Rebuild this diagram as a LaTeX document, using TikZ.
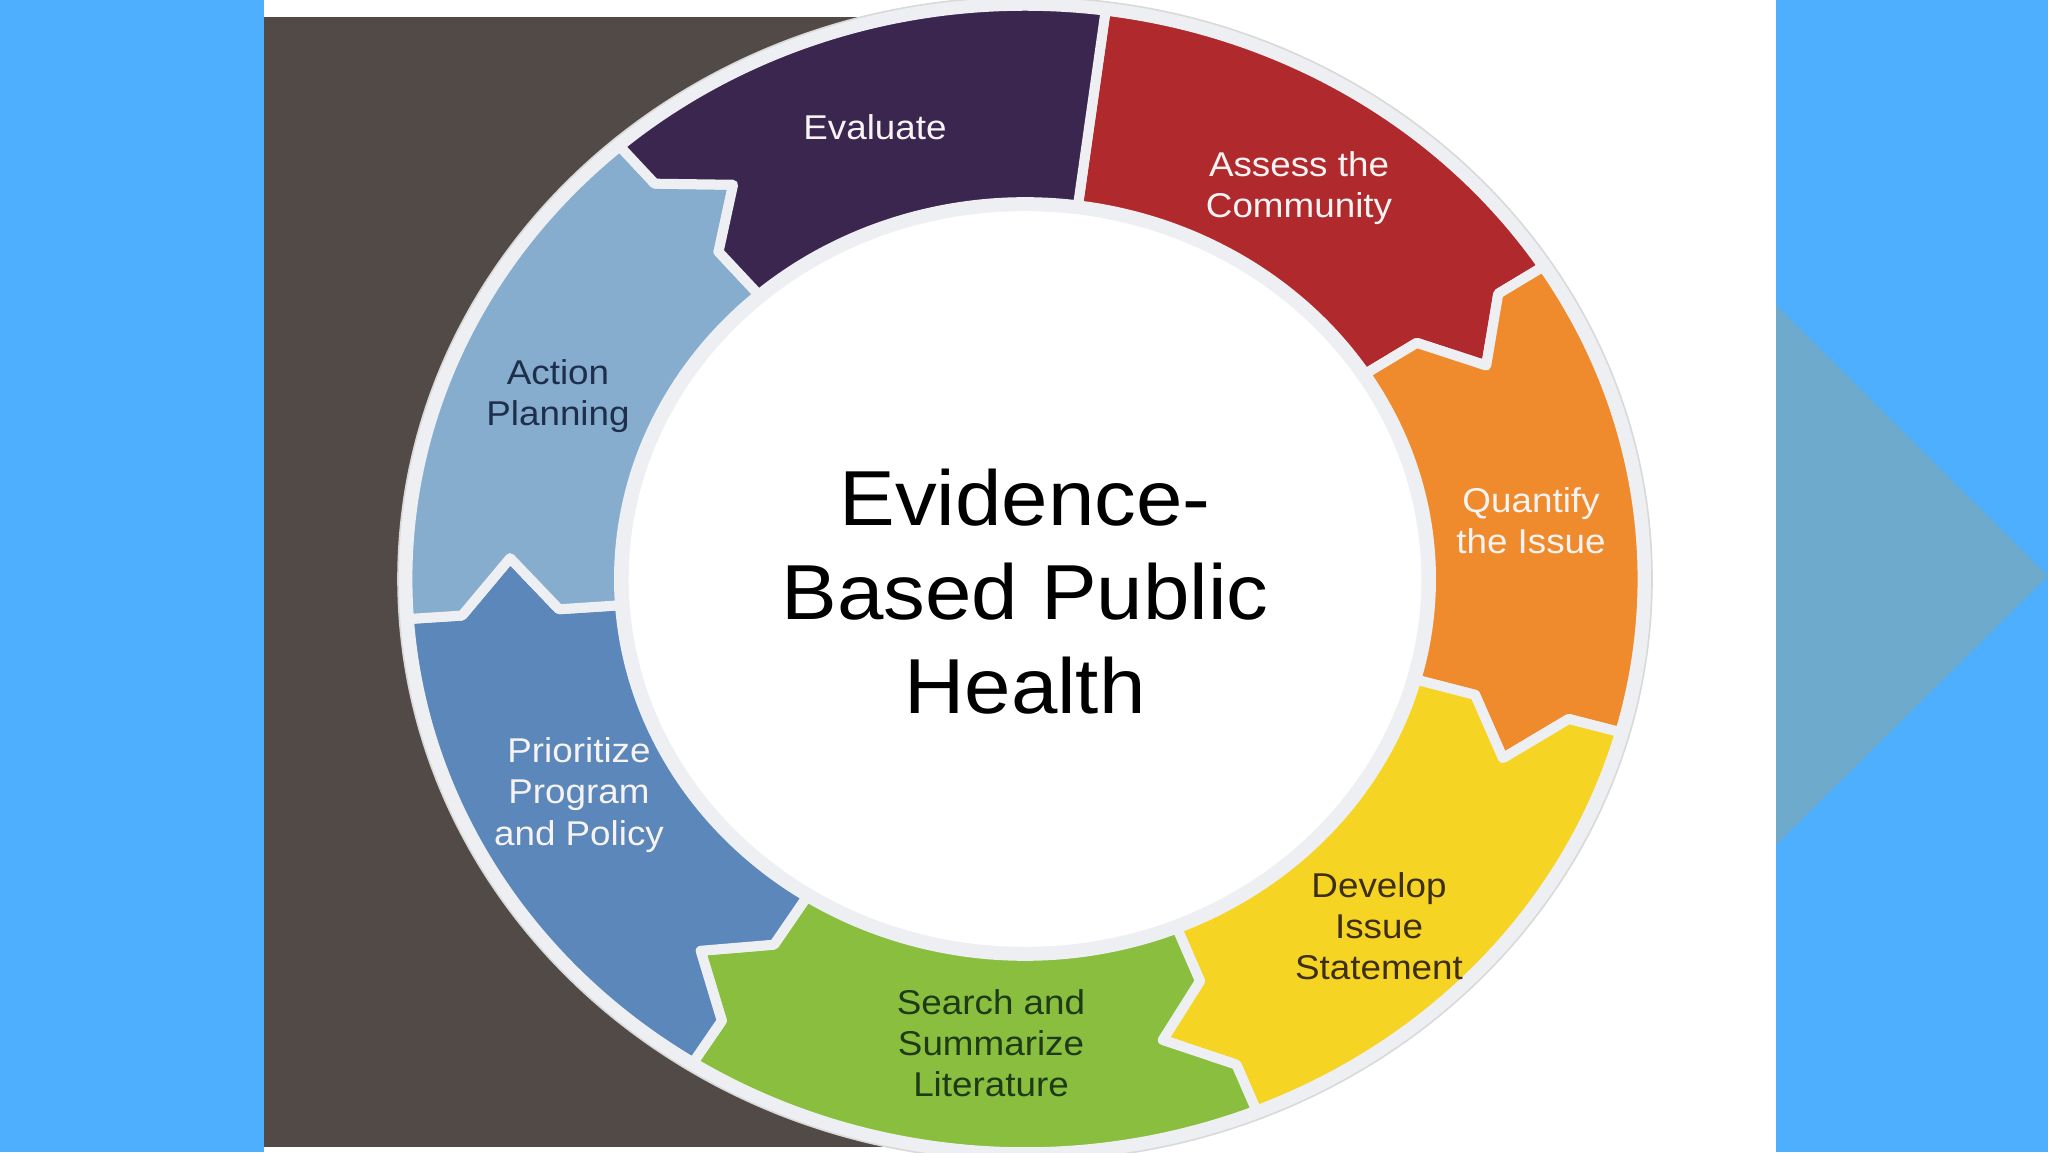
\documentclass[tikz,border=0pt]{standalone}
\usepackage{fontspec}
\setmainfont{Liberation Sans}[FakeStretch=1.07]
\definecolor{bgblue}{HTML}{4DAFFE}
\definecolor{triblue}{HTML}{6DAACB}
\definecolor{darkbg}{HTML}{524A46}
\definecolor{rim}{HTML}{EEEFF3}
\definecolor{cEval}{HTML}{3B2650}
\definecolor{cAssess}{HTML}{B0292D}
\definecolor{cQuant}{HTML}{EF8B2C}
\definecolor{cDev}{HTML}{F6D423}
\definecolor{cSearch}{HTML}{89BE3F}
\definecolor{cPrior}{HTML}{5B87BA}
\definecolor{cAction}{HTML}{86ADCD}
\definecolor{tLight}{HTML}{F7F3F3}
\definecolor{tDev}{HTML}{3D2F14}
\definecolor{tSearch}{HTML}{1F3A16}
\definecolor{tAction}{HTML}{1E2F4D}
\def\ro{0.985}\def\ri{0.6475}\def\rs{0.90}\def\rp{0.822}\def\rt{0.745}\def\dlt{6.5}
% #1 ccw angle, #2 cw angle, #3 colour, #4 notch at #1 (1/0), #5 tip at #2 (1/0)
\newcommand{\ringseg}[5]{%
  \pgfmathsetmacro\segAd{#1-\dlt}%
  \pgfmathsetmacro\segBd{#2-\dlt}%
  \ifnum#5=1 \edef\tippart{-- (#2:\rs) -- (\segBd:\rp) -- (#2:\rt)}\else\def\tippart{}\fi
  \ifnum#4=1 \edef\notchpart{-- (#1:\rt) -- (\segAd:\rp) -- (#1:\rs)}\else\def\notchpart{}\fi
  \filldraw[segment, fill=#3] (#1:\ro) arc[start angle=#1, end angle=#2, radius=\ro]
    \tippart -- (#2:\ri) arc[start angle=#2, end angle=#1, radius=\ri] \notchpart -- cycle;
}
\tikzset{
  segment/.style={draw=rim, line width=5pt, line join=round},
  lbl/.style={align=center, inner sep=0pt, font=\fontsize{17.2}{20.6}\selectfont},
  hub/.style={align=center, inner sep=0pt, font=\fontsize{39}{47}\selectfont}
}
\begin{document}
\begin{tikzpicture}[x=0.5pt, y=0.5pt]
\useasboundingbox (0,0) rectangle (2048,1152);
\fill[bgblue] (0,0) rectangle (2048,1152);
\fill[triblue] (1776,847) -- (2048,576) -- (1776,307) -- cycle;
\fill[white] (264,0) rectangle (1776,1152);
\fill[darkbg] (264,5) rectangle (1025,1135);
\begin{scope}
  \clip (264,0) rectangle (1776,1152);
  \begin{scope}[shift={(1025,573)}, x=313.5pt, y=291pt]
    \filldraw[fill=rim, draw=black!15, line width=0.8pt] (0,0) circle[radius=1];
    \ringseg{82.5}{33}{cAssess}{0}{1}
    \ringseg{33}{-15.5}{cQuant}{1}{1}
    \ringseg{-15.5}{-68}{cDev}{1}{1}
    \ringseg{-68}{-122.5}{cSearch}{1}{1}
    \ringseg{-122.5}{-176}{cPrior}{1}{1}
    \ringseg{-176}{-229}{cAction}{1}{1}
    \ringseg{-229}{-277.5}{cEval}{1}{0}
    \fill[white] (0,0) circle[radius=0.632];
  \end{scope}
\end{scope}
\node[lbl, text=tLight] (evaluate) at (875,1025) {Evaluate};
\node[lbl, text=tLight] (assess) at (1299,964) {Assess the\\Community};
\node[lbl, text=tLight] (quantify) at (1531,631) {Quantify\\the Issue};
\node[lbl, text=tDev] (develop) at (1379,226) {Develop\\Issue\\Statement};
\node[lbl, text=tSearch] (search) at (991,109) {Search and\\Summarize\\Literature};
\node[lbl, text=tLight] (prioritize) at (579,357) {Prioritize\\Program\\and Policy};
\node[lbl, text=tAction] (action) at (558,756) {Action\\Planning};
\node[hub, text=black] (hubtext) at (1025,560) {Evidence-\\Based Public\\Health};
\end{tikzpicture}
\end{document}
